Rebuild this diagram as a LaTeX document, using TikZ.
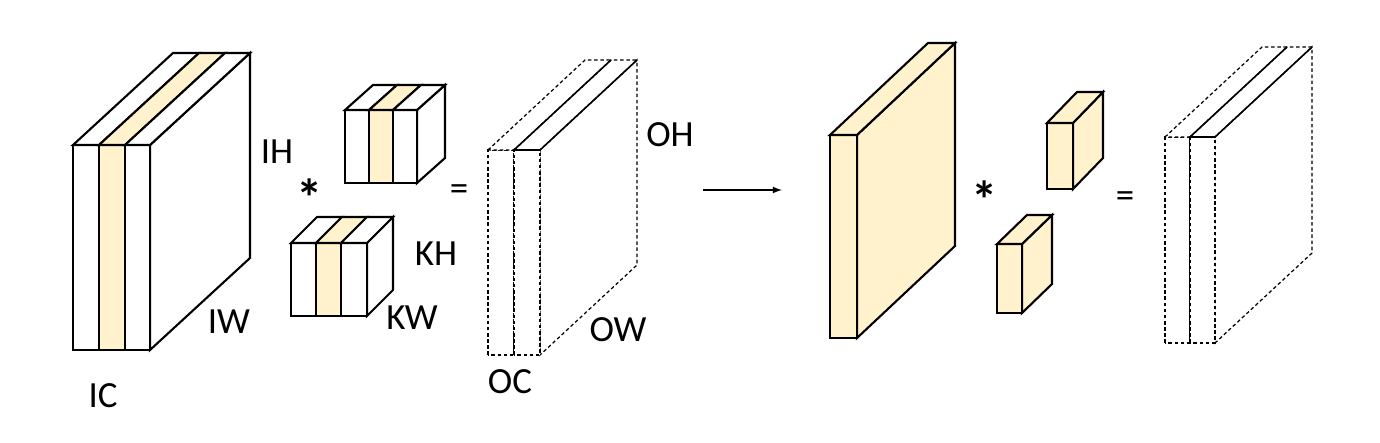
\documentclass[tikz,border=0pt]{standalone}
\usepackage{fontspec}
\setmainfont{Carlito}
\definecolor{paleyellow}{HTML}{FFF2CC}
% one strip of a block: front face and top face
\newcommand\blockstrip[7]{%
  \draw[#7] (#1,#4) rectangle (#2,#3);
  \draw[#7] (#1,#3) -- ++(#5,-#6) -- ++(#2-#1,0) -- (#2,#3) -- cycle;}
% right side face of a block
\newcommand\blockside[6]{%
  \draw[#6] (#1,#2) -- ++(#4,-#5) -- ++(0,#3-#2) -- (#1,#3) -- cycle;}
\begin{document}
\begin{tikzpicture}[x=0.02cm,y=-0.02cm,
    edge/.style={line width=1.2pt,fill=white},
    hot/.style={line width=1.2pt,fill=paleyellow},
    thin edge/.style={line width=0.9pt,fill=white},
    ghost/.style={line width=0.7pt,dashed,dash pattern=on 2pt off 1.5pt,fill=white},
    label/.style={font=\fontsize{21}{24}\selectfont},
    op/.style={font=\bfseries\fontsize{30}{32}\selectfont}]
  \useasboundingbox (0,0) rectangle (1380,443);

  % input feature map
  \blockside{150}{145}{350}{100}{92}{edge}
  \blockstrip{73}{99}{145}{350}{100}{92}{edge}
  \blockstrip{99}{125}{145}{350}{100}{92}{hot}
  \blockstrip{125}{150}{145}{350}{100}{92}{edge}

  % upper kernel
  \blockside{417}{110}{183}{28}{25}{edge}
  \blockstrip{345}{369}{110}{183}{28}{25}{edge}
  \blockstrip{369}{393}{110}{183}{28}{25}{hot}
  \blockstrip{393}{417}{110}{183}{28}{25}{edge}

  % lower kernel
  \blockside{367}{243}{316}{26}{26}{edge}
  \blockstrip{291}{316}{243}{316}{26}{26}{edge}
  \blockstrip{316}{341}{243}{316}{26}{26}{hot}
  \blockstrip{341}{367}{243}{316}{26}{26}{edge}

  % output feature map
  \blockside{540}{150}{355}{97}{90}{ghost}
  \blockstrip{488}{514}{150}{355}{97}{90}{ghost}
  \blockstrip{514}{540}{150}{355}{97}{90}{ghost}
  \draw[thin edge] (514,150) -- ++(97,-90) (540,150) -- ++(97,-90) (514,150) -- (540,150);

  % depthwise input
  \blockside{857}{135}{338}{98}{92}{hot}
  \blockstrip{830}{857}{135}{338}{98}{92}{hot}

  % depthwise kernels
  \blockside{1073}{123}{189}{30}{31}{hot}
  \blockstrip{1047}{1073}{123}{189}{30}{31}{hot}
  \blockside{1022}{244}{313}{30}{29}{hot}
  \blockstrip{997}{1022}{244}{313}{30}{29}{hot}

  % depthwise output
  \blockside{1215}{137}{343}{97}{90}{ghost}
  \blockstrip{1165}{1190}{137}{343}{97}{90}{ghost}
  \blockstrip{1190}{1215}{137}{343}{97}{90}{ghost}
  \draw[thin edge] (1190,137) -- ++(97,-90) (1215,137) -- ++(97,-90) (1190,137) -- (1215,137);

  % labels
  \node[label] (ih) at (277,152) {IH};
  \node[label] (iw) at (229,322) {IW};
  \node[label] (ic) at (103,396) {IC};
  \node[op] (star1) at (310,198) {*};
  \node[label] (kh) at (436,254) {KH};
  \node[label] (kw) at (412,318) {KW};
  \node[label] (eq1) at (459,193) {=};
  \node[label] (oh) at (670,135) {OH};
  \node[label] (ow) at (618,330) {OW};
  \node[label] (oc) at (510,382) {OC};
  \node[op] (star2) at (985,200) {*};
  \node[label] (eq2) at (1125,200) {=};

  % arrow
  \coordinate (from) at (703,190);
  \coordinate (to) at (782,190);
  \draw[-latex, line width=0.8pt] (from) -- (to);
\end{tikzpicture}
\end{document}
